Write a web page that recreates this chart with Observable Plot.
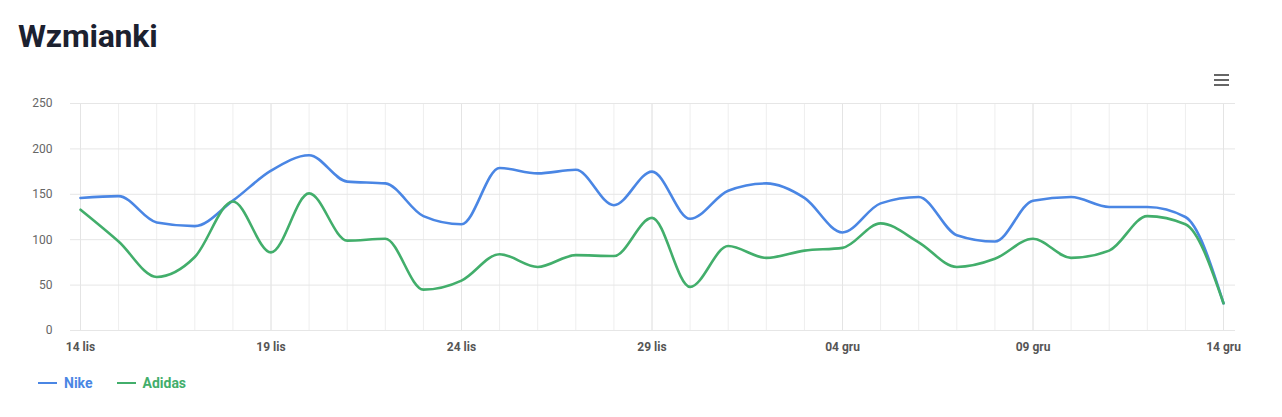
<!DOCTYPE html>
<html>
<head>
<meta charset="utf-8">
<script src="https://cdn.jsdelivr.net/npm/d3@7"></script>
<script src="https://cdn.jsdelivr.net/npm/@observablehq/plot@0.6"></script>
<style>
  html, body { margin: 0; padding: 0; background: #fff; }
  body { width: 1282px; height: 417px; position: relative; overflow: hidden; font-family: Roboto, "Open Sans", sans-serif; }
  #title { position: absolute; left: 18px; top: 17px; font-size: 32px; font-weight: 700; color: #1c2130; letter-spacing: -0.2px; }
  #menu { position: absolute; left: 1214px; top: 74px; width: 15px; }
  #menu div { height: 2px; background: #666; margin-bottom: 3px; }
  #chart { position: absolute; left: 0; top: 90px; }
  #legend { position: absolute; left: 38px; top: 375px; display: flex; align-items: center; font-size: 14px; font-weight: 700; }
  .item { display: flex; align-items: center; margin-right: 24px; }
  .sw { width: 19px; height: 2px; margin-right: 7px; }
</style>
</head>
<body>
<div id="title">Wzmianki</div>
<div id="menu"><div></div><div></div><div></div></div>
<div id="chart"></div>
<div id="legend"></div>
<script>
const dates = ["2023-11-14","2023-11-15","2023-11-16","2023-11-17","2023-11-18","2023-11-19","2023-11-20","2023-11-21","2023-11-22","2023-11-23","2023-11-24","2023-11-25","2023-11-26","2023-11-27","2023-11-28","2023-11-29","2023-11-30","2023-12-01","2023-12-02","2023-12-03","2023-12-04","2023-12-05","2023-12-06","2023-12-07","2023-12-08","2023-12-09","2023-12-10","2023-12-11","2023-12-12","2023-12-13","2023-12-14"];
const nike = [146,148,119,115,143,176,193,164,162,126,117,179,173,177,138,175,123,154,162,146,108,140,147,105,98,143,147,136,136,125,30];
const adidas = [133,98,59,81,142,86,151,99,101,45,55,84,70,83,82,124,48,93,80,88,91,118,97,70,79,101,80,88,126,117,30];
const seriesNames = ["Nike","Adidas"];
const seriesColors = ["#4a86e4","#42ae6b"];
const tickDates = ["2023-11-14","2023-11-19","2023-11-24","2023-11-29","2023-12-04","2023-12-09","2023-12-14"];
const tickLabels = ["14 lis","19 lis","24 lis","29 lis","04 gru","09 gru","14 gru"];
const yTicks = [0,50,100,150,200,250];

const parse = d3.utcParse("%Y-%m-%d");
const rows = [];
dates.forEach((d, i) => {
  rows.push({date: parse(d), value: nike[i], series: seriesNames[0]});
});
dates.forEach((d, i) => {
  rows.push({date: parse(d), value: adidas[i], series: seriesNames[1]});
});
const tickTimes = tickDates.map(parse);
const labelOf = new Map(tickTimes.map((t, i) => [+t, tickLabels[i]]));

const chart = Plot.plot({
  width: 1282,
  height: 270,
  marginTop: 13,
  marginBottom: 30,
  marginLeft: 80,
  marginRight: 59,
  style: {fontFamily: "Roboto, sans-serif", background: "transparent", overflow: "visible"},
  x: {type: "utc", domain: [parse(dates[0]), parse(dates[dates.length - 1])]},
  y: {domain: [0, 250]},
  color: {domain: seriesNames, range: seriesColors},
  marks: [
    Plot.ruleX(dates.map(parse), {stroke: "#eeeeee", strokeWidth: 1}),
    Plot.ruleX(tickTimes, {stroke: "#e4e4e4", strokeWidth: 1}),
    Plot.ruleY(yTicks, {stroke: "#e6e6e6", strokeWidth: 1, insetLeft: -10, insetRight: -12}),
    Plot.axisY({ticks: yTicks, tickSize: 0, tickPadding: 28, fontSize: 12, fill: "#666", label: null}),
    Plot.axisX({ticks: tickTimes, tickSize: 0, tickPadding: 12, fontSize: 12, fontWeight: 700, fill: "#555", label: null, tickFormat: d => labelOf.get(+d)}),
    Plot.line(rows, {x: "date", y: "value", z: "series", stroke: "series", strokeWidth: 2.6, curve: "monotone-x"})
  ]
});
document.getElementById("chart").appendChild(chart);

const legend = document.getElementById("legend");
seriesNames.forEach((n, i) => {
  const it = document.createElement("div");
  it.className = "item";
  it.innerHTML = `<div class="sw" style="background:${seriesColors[i]}"></div><span style="color:${seriesColors[i]}">${n}</span>`;
  legend.appendChild(it);
});
</script>
</body>
</html>
